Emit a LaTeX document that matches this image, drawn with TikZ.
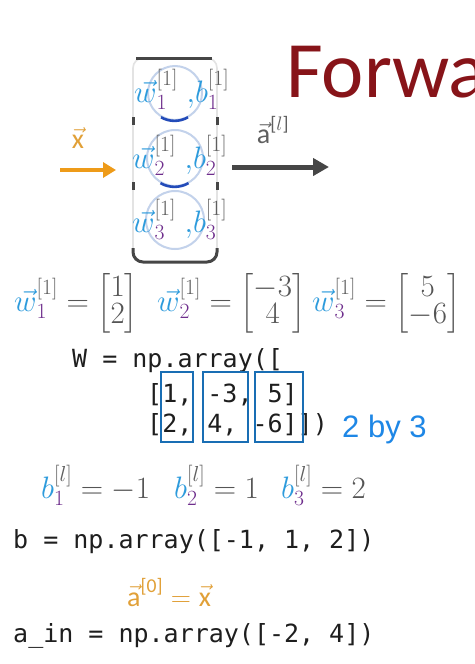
\RequirePackage{fix-cm}
\documentclass[tikz,border=0pt]{standalone}
\usepackage{amsmath}
\usepackage{fontspec}
\newfontfamily\carl{Carlito}
\newfontfamily\monof{DejaVu Sans Mono}
\newfontfamily\handf{Liberation Sans}
\usetikzlibrary{arrows.meta}
\definecolor{wblue}{RGB}{45,155,220}
\definecolor{purp}{RGB}{110,45,140}
\definecolor{sgray}{RGB}{95,95,95}
\definecolor{ngray}{RGB}{85,85,85}
\definecolor{orng}{RGB}{238,155,25}
\definecolor{otext}{RGB}{225,160,55}
\definecolor{titlered}{RGB}{135,20,25}
\definecolor{boxblue}{RGB}{25,110,180}
\definecolor{handblue}{RGB}{30,135,230}
\definecolor{circ}{RGB}{195,210,235}
\definecolor{arcblue}{RGB}{35,75,185}
\definecolor{frame}{RGB}{70,70,70}
\definecolor{codec}{RGB}{30,30,30}
\newcommand{\wvec}[1]{\textcolor{wblue}{\vec{w}}^{\textcolor{sgray}{[1]}}_{\textcolor{purp}{#1}}}
\newcommand{\bvec}[2]{\textcolor{wblue}{b}^{\textcolor{sgray}{[#2]}}_{\textcolor{purp}{#1}}}
\newcommand{\svec}[1]{\vec{\text{\carl #1}}}
\begin{document}
\begin{tikzpicture}[x=1pt,y=-1pt,
  code/.style={anchor=base west,inner sep=0,text=codec,font=\monof\fontsize{25}{25}\selectfont},
  mathtxt/.style={anchor=base west,inner sep=0,font=\fontsize{31}{22}\selectfont},
  cellbox/.style={draw=boxblue,line width=2.4pt},
  neuron/.style={draw=circ,line width=2pt},
  sidebar/.style={draw=frame,line width=3pt},
  arcmark/.style={draw=arcblue,line width=2.6pt}
]
\useasboundingbox (0,0) rectangle (474,664);
\clip (0,0) rectangle (474,664);
\fill[white] (0,0) rectangle (474,664);

% title
\node[anchor=base west,inner sep=0,text=titlered,font=\carl\fontsize{80}{80}\selectfont] (title) at (286,97) {Forward};

% layer box
\draw[gray!22,line width=1.6pt,rounded corners=10pt] (133,58) rectangle (217,262);
\draw[sidebar] (136,58) -- (212,58);
\draw[sidebar,rounded corners=10pt] (133,248) -- (133,262) -- (217,262) -- (217,248);
\draw[sidebar] (133,117) -- (133,125);
\draw[sidebar] (217,117) -- (217,125);
\draw[sidebar] (133,182) -- (133,190);
\draw[sidebar] (217,182) -- (217,190);

% neurons
\node[neuron,circle,minimum size=54pt,inner sep=0] (n1) at (175,93) {};
\node[neuron,circle,minimum size=56pt,inner sep=0] (n2) at (175,158) {};
\node[neuron,circle,minimum size=58pt,inner sep=0] (n3) at (175,220) {};
\draw[arcmark] (n1.240) arc[start angle=240,end angle=300,radius=27pt];
\draw[arcmark] (n2.240) arc[start angle=240,end angle=300,radius=28pt];

\node[mathtxt] (t1) at (134,102) {$\wvec{1}\;\textcolor{wblue}{,}\bvec{1}{1}$};
\node[mathtxt] (t2) at (132,168) {$\wvec{2}\;\textcolor{wblue}{,}\bvec{2}{1}$};
\node[mathtxt] (t3) at (132,232) {$\wvec{3}\;\textcolor{wblue}{,}\bvec{3}{1}$};

% input arrow
\coordinate (xin) at (60,170);
\coordinate (xend) at (116,170);
\draw[orng,line width=4.2pt,-{Triangle[length=13pt,width=15pt]}] (xin) -- (xend);
\node[inner sep=0,text=otext,font=\fontsize{28}{28}\selectfont] (xlab) at (78,138) {$\svec{x}$};

% output arrow
\coordinate (aout) at (232,167);
\coordinate (aend) at (329,167);
\draw[frame,line width=5pt,-{Triangle[length=16pt,width=17pt]}] (aout) -- (aend);
\node[inner sep=0,text=sgray,font=\fontsize{28}{28}\selectfont] (alab) at (273,130) {$\svec{a}^{\text{\carl[}l\text{\carl]}}$};

% weight vectors
\node[mathtxt] (w1) at (14,311) {$\wvec{1}\color{ngray}=\left[\begin{array}{@{}c@{}}1\\2\end{array}\right]$};
\node[mathtxt] (w2) at (157,311) {$\wvec{2}\color{ngray}=\left[\begin{array}{@{}c@{}}-3\\4\end{array}\right]$};
\node[mathtxt] (w3) at (312,311) {$\wvec{3}\color{ngray}=\left[\begin{array}{@{}c@{}}5\\-6\end{array}\right]$};

% W code
\node[code] (wl1) at (72,367) {W = np.array([};
\node[code] (wl2) at (147,402) {[1, -3, 5]};
\node[code] (wl3) at (147,432) {[2, 4, -6]])};
\draw[cellbox] (161,372) rectangle (193,442);
\draw[cellbox] (203,372) rectangle (248,442);
\draw[cellbox] (255,372) rectangle (303,442);
\node[anchor=base west,inner sep=0,text=handblue,font=\handf\fontsize{31}{31}\selectfont] (hand) at (342,437) {2 by 3};

% biases
\node[mathtxt] (b1) at (41,498) {$\bvec{1}{l}\color{ngray}=-1$};
\node[mathtxt] (b2) at (174,498) {$\bvec{2}{l}\color{ngray}=1$};
\node[mathtxt] (b3) at (281,498) {$\bvec{3}{l}\color{ngray}=2$};
\node[code] (bl) at (13,548) {b = np.array([-1, 1, 2])};

% input
\node[anchor=base west,inner sep=0,text=otext,font=\fontsize{28}{28}\selectfont] (a0) at (127,606) {$\svec{a}^{\text{\carl[0]}}=\svec{x}$};
\node[code] (al) at (13,642) {a\_in = np.array([-2, 4])};
\end{tikzpicture}
\end{document}
